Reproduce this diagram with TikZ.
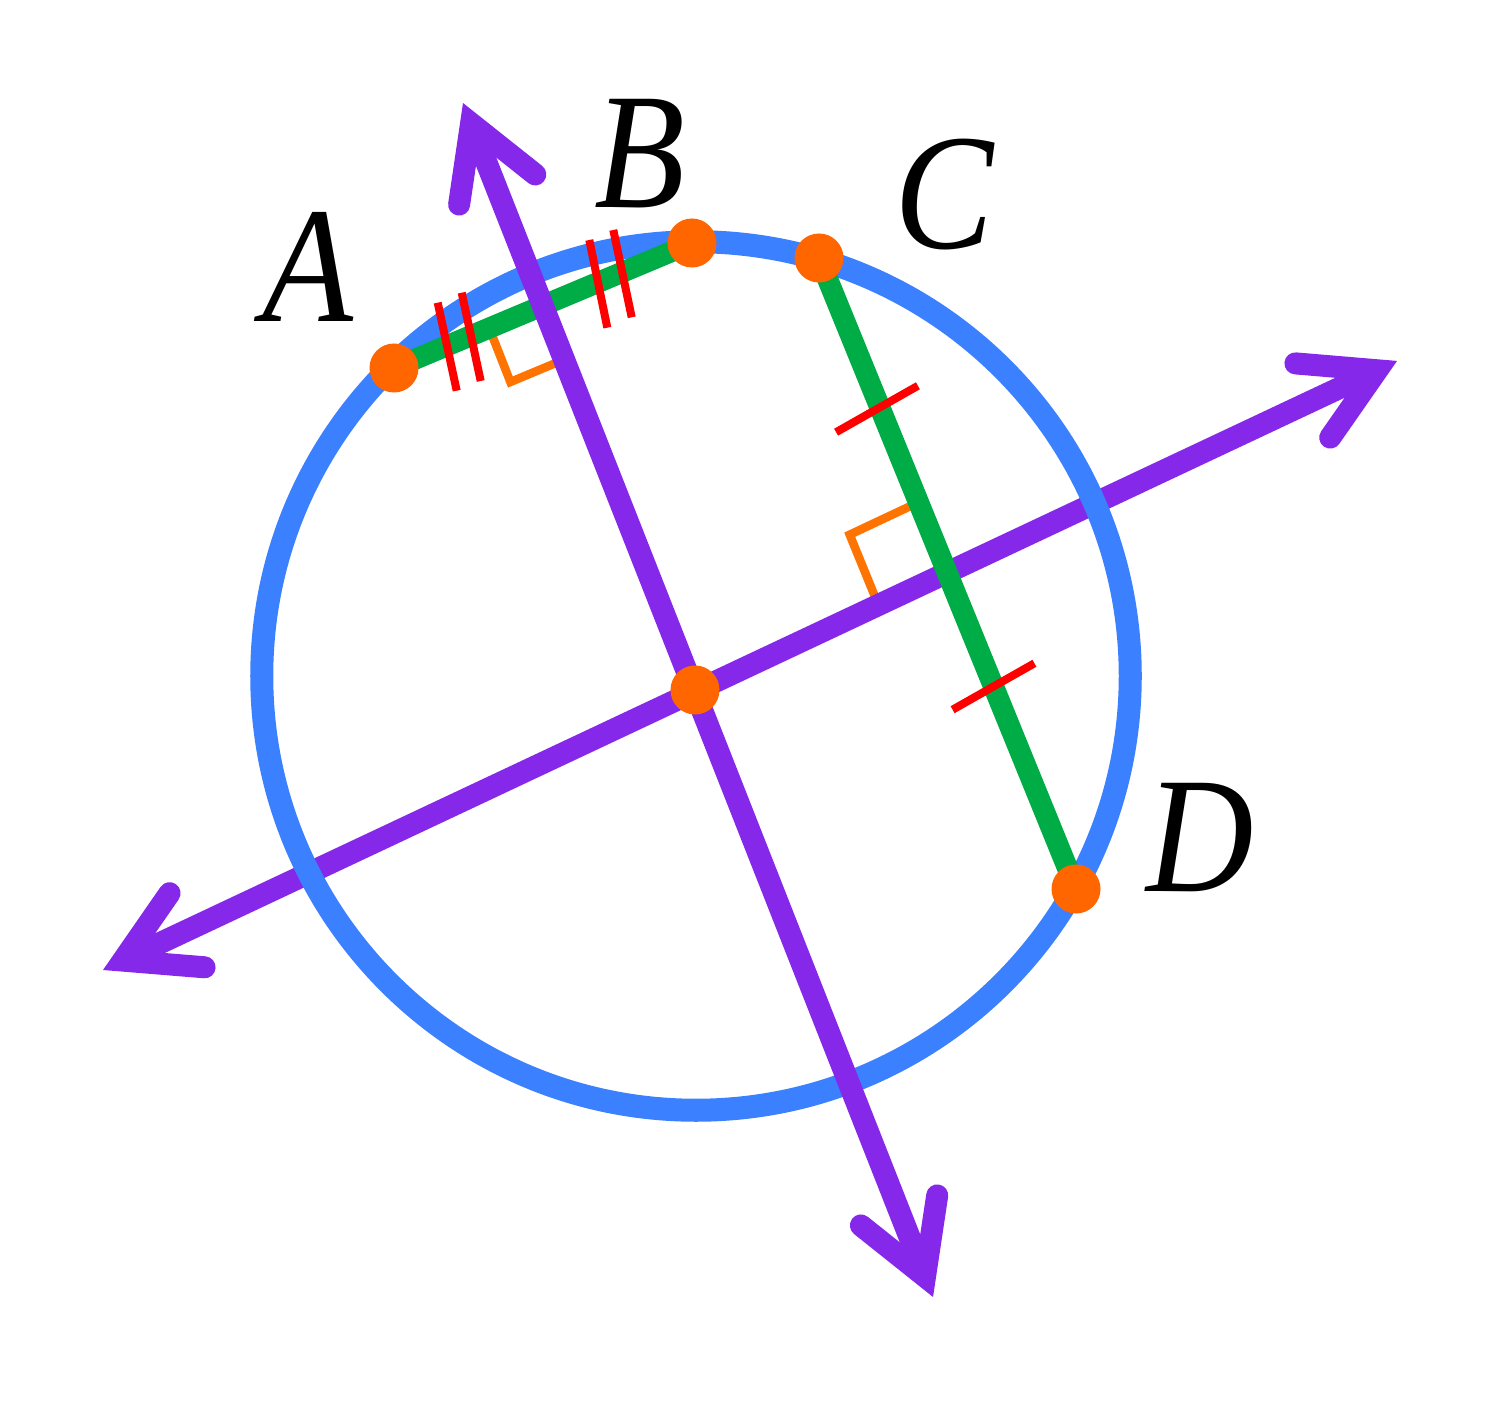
\documentclass[tikz,border=0pt]{standalone}
\usepackage{fontspec}
\setmainfont{Liberation Serif}
\definecolor{cblue}{RGB}{58,128,255}
\definecolor{cpurple}{RGB}{134,40,234}
\definecolor{cgreen}{RGB}{0,172,70}
\definecolor{cdot}{RGB}{255,102,0}
\definecolor{csq}{RGB}{255,115,0}
\definecolor{cred}{RGB}{255,0,0}
\begin{document}
\begin{tikzpicture}[x=0.01cm,y=-0.01cm,
  purp/.style={draw=cpurple,line width=0.22cm},
  headsty/.style={draw=cpurple,line width=0.22cm,line cap=round,line join=miter,miter limit=10},
  circsty/.style={draw=cblue,line width=0.23cm},
  chord/.style={draw=cgreen,line width=0.21cm},
  ticksty/.style={draw=cred,line width=0.08cm},
  sqsty/.style={draw=csq,line width=0.085cm,line join=miter},
  dotsty/.style={fill=cdot},
  lbl/.style={font=\fontsize{47}{47}\selectfont\itshape,anchor=base,inner sep=0pt,xscale=0.9}]
\useasboundingbox (0,0) rectangle (1500,1401);
% points
\coordinate (Ctr) at (696,676);
\coordinate (O) at (695,690);
\coordinate (A) at (394,368);
\coordinate (B) at (692,243);
\coordinate (C) at (819,258);
\coordinate (D) at (1076,889);
% line ends
\coordinate (Vt) at (471.1,123.5);
\coordinate (Vb) at (925.0,1276.5);
\coordinate (Vl) at (122.9,960.6);
\coordinate (Vr) at (1377.1,370.3);
% arrowhead arm ends
\coordinate (Vt1) at (459.1,204.6);
\coordinate (Vt2) at (535.3,174.5);
\coordinate (Vb1) at (937.2,1195.4);
\coordinate (Vb2) at (860.9,1225.4);
\coordinate (Vr1) at (1295.4,363.4);
\coordinate (Vr2) at (1330.2,437.6);
\coordinate (Vl1) at (204.6,967.3);
\coordinate (Vl2) at (169.6,893.2);
% right-angle squares
\coordinate (P1) at (489.2,328.0);
\coordinate (P2) at (510.4,382.0);
\coordinate (P3) at (563.9,359.6);
\coordinate (Q1) at (918.5,502.3);
\coordinate (Q2) at (849.7,534.7);
\coordinate (Q3) at (878.4,605.1);
\draw[sqsty] (P1) -- (P2) -- (P3);
\draw[sqsty] (Q1) -- (Q2) -- (Q3);
% bisector of CD
\draw[purp] (Vl) -- (Vr);
\draw[headsty] (Vr1) -- (Vr) -- (Vr2);
\draw[headsty] (Vl1) -- (Vl) -- (Vl2);
% circle
\draw[circsty] (Ctr) circle[radius=4.34cm];
% chords
\draw[chord] (C) -- (D);
\draw[chord] (A) -- (B);
% bisector of AB
\draw[purp] (Vt) -- (Vb);
\draw[headsty] (Vt1) -- (Vt) -- (Vt2);
\draw[headsty] (Vb1) -- (Vb) -- (Vb2);
% ticks
\coordinate (ta1) at (437.7,302.7); \coordinate (ta2) at (456.7,390.7);
\coordinate (tb1) at (461.7,292.7); \coordinate (tb2) at (480.7,381.0);
\coordinate (tc1) at (589.3,240.0); \coordinate (tc2) at (607.3,327.7);
\coordinate (td1) at (613.3,230.0); \coordinate (td2) at (631.7,317.3);
\coordinate (te1) at (836.1,432.2); \coordinate (te2) at (917.9,385.8);
\coordinate (tf1) at (952.6,709.7); \coordinate (tf2) at (1034.4,663.3);
\draw[ticksty] (ta1) -- (ta2);
\draw[ticksty] (tb1) -- (tb2);
\draw[ticksty] (tc1) -- (tc2);
\draw[ticksty] (td1) -- (td2);
\draw[ticksty] (te1) -- (te2);
\draw[ticksty] (tf1) -- (tf2);
% dots
\fill[dotsty] (A) circle[radius=0.245cm];
\fill[dotsty] (B) circle[radius=0.245cm];
\fill[dotsty] (C) circle[radius=0.245cm];
\fill[dotsty] (D) circle[radius=0.245cm];
\fill[dotsty] (O) circle[radius=0.245cm];
% labels
\node[lbl] (lA) at (308,322) {A};
\node[lbl] (lB) at (640,208) {B};
\node[lbl] (lC) at (944,249) {C};
\node[lbl] (lD) at (1200,892) {D};
\end{tikzpicture}
\end{document}
